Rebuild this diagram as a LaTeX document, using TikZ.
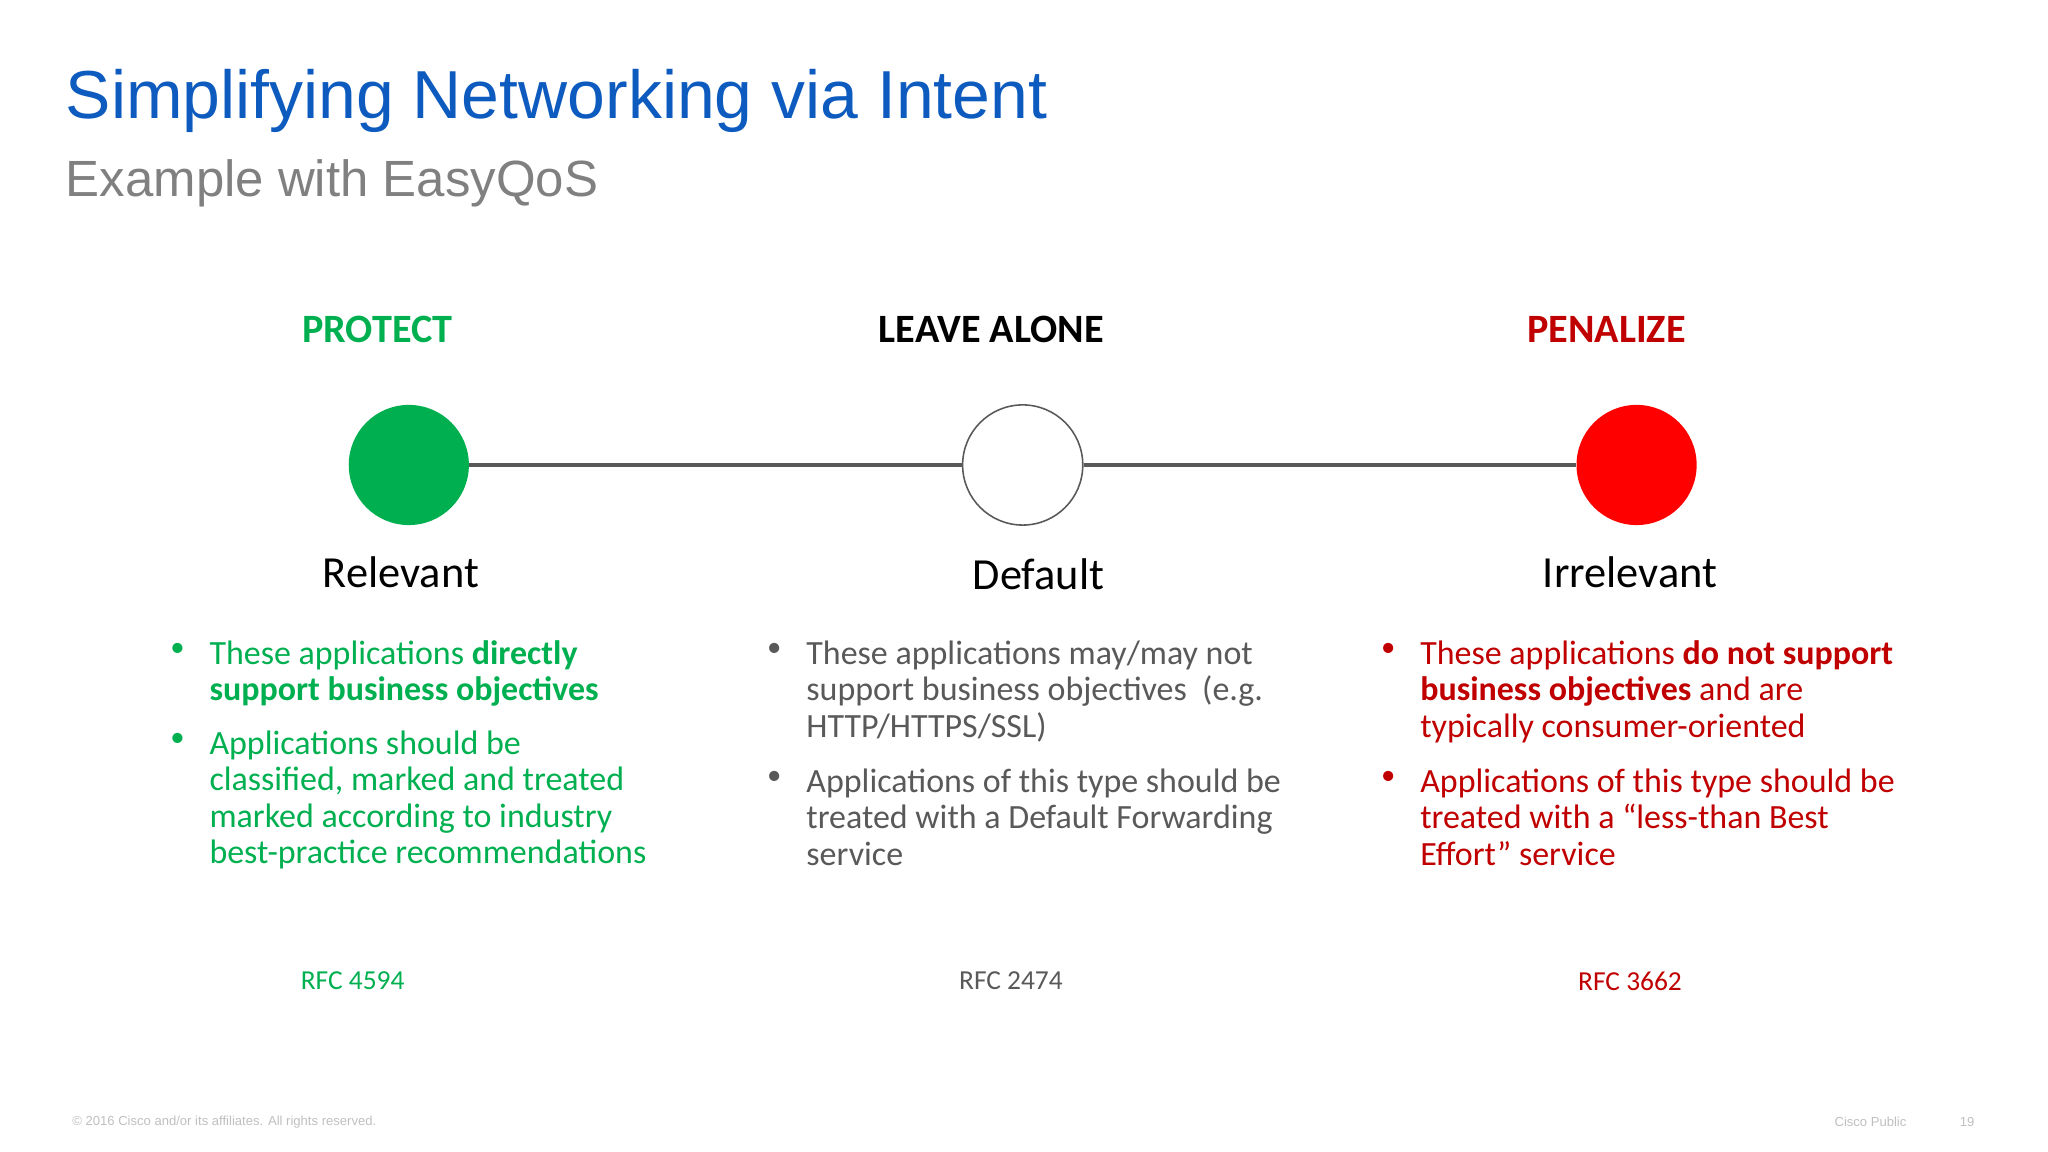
\documentclass[tikz,border=0pt]{standalone}
\usepackage{fontspec}
\setmainfont{Carlito}
\newfontfamily\arialfont{Liberation Sans}
\usetikzlibrary{positioning}
\definecolor{ciscoblue}{HTML}{0D5BBF}
\definecolor{goodgreen}{HTML}{00B050}
\definecolor{badred}{HTML}{C00000}
\definecolor{dotred}{HTML}{FF0000}
\definecolor{textgray}{HTML}{595959}
\begin{document}
\begin{tikzpicture}[x=0.5pt,y=-0.5pt]
	\tikzstyle{heading}=[font=\fontsize{15.4}{18}\selectfont\bfseries]
	\tikzstyle{dot}=[circle,minimum size=46pt,inner sep=0pt]
	\tikzstyle{label}=[font=\fontsize{17}{20}\selectfont]
	\tikzstyle{item}=[anchor=north west,align=left,inner sep=0pt,font=\fontsize{13}{14}\selectfont]
	\tikzstyle{bul}=[anchor=north west,inner sep=0pt,font=\fontsize{11}{14}\selectfont]
	\tikzstyle{rfc}=[font=\fontsize{10.5}{12}\selectfont]
	\tikzstyle{foot}=[inner sep=0pt,text=lightgray,font=\arialfont\fontsize{5}{6}\selectfont]
	\useasboundingbox (0,0) rectangle (1568,882);
	% title
	\node[anchor=west,inner sep=0pt,text=ciscoblue,font=\arialfont\fontsize{26}{30}\selectfont] (title) at (50,77) {Simplifying Networking via Intent};
	\node[anchor=west,inner sep=0pt,text=gray,font=\arialfont\fontsize{19.5}{22}\selectfont] (subtitle) at (50,140) {Example with EasyQoS};
	% headings
	\node[heading,text=goodgreen] (protect) at (289,252) {PROTECT};
	\node[heading] (leave) at (759,252) {LEAVE ALONE};
	\node[heading,text=badred] (penalize) at (1230,252) {PENALIZE};
	% the scale
	\node[dot,fill=goodgreen] (relevant) at (313,356) {};
	\node[dot,draw=textgray,fill=white,line width=0.6pt] (default) at (783,356) {};
	\node[dot,fill=dotred] (irrelevant) at (1253,356) {};
	\draw[textgray,line width=1.2pt] (relevant) -- (default);
	\draw[textgray,line width=1.2pt] (default) -- (irrelevant);
	\node[label] (lrel) at (307,438) {Relevant};
	\node[label] (ldef) at (795,440) {Default};
	\node[label] (lirr) at (1248,438) {Irrelevant};
	% left column
	\begin{scope}[text=goodgreen]
		\node[bul] (b1) at (130,492) {\textbullet};
		\node[item] (i1) at (160,490) {These applications \textbf{directly}\\\textbf{support business objectives}};
		\node[bul] (b2) at (130,561) {\textbullet};
		\node[item] (i2) at (160,559) {Applications should be\\classified, marked and treated\\marked according to industry\\best-practice recommendations};
	\end{scope}
	% middle column
	\begin{scope}[text=textgray]
		\node[bul] (b3) at (587,492) {\textbullet};
		\node[item] (i3) at (617,490) {These applications may/may not\\support business objectives~ (e.g.\\HTTP/HTTPS/SSL)};
		\node[bul] (b4) at (587,590) {\textbullet};
		\node[item] (i4) at (617,588) {Applications of this type should be\\treated with a Default Forwarding\\service};
	\end{scope}
	% right column
	\begin{scope}[text=badred]
		\node[bul] (b5) at (1057,492) {\textbullet};
		\node[item] (i5) at (1087,490) {These applications \textbf{do not support}\\\textbf{business objectives} and are\\typically consumer-oriented};
		\node[bul] (b6) at (1057,590) {\textbullet};
		\node[item] (i6) at (1087,588) {Applications of this type should be\\treated with a “less-than Best\\Effort” service};
	\end{scope}
	% references
	\node[rfc,text=goodgreen] (rfc1) at (270,751) {RFC 4594};
	\node[rfc,text=textgray] (rfc2) at (774,751) {RFC 2474};
	\node[rfc,text=badred] (rfc3) at (1248,751) {RFC 3662};
	% footer
	\node[foot,anchor=west] (copy) at (55,859) {© 2016 Cisco and/or its affiliates. All rights reserved.};
	\node[foot,anchor=east] (public) at (1460,859) {Cisco Public};
	\node[foot,anchor=east] (page) at (1512,859) {19};
\end{tikzpicture}
\end{document}
